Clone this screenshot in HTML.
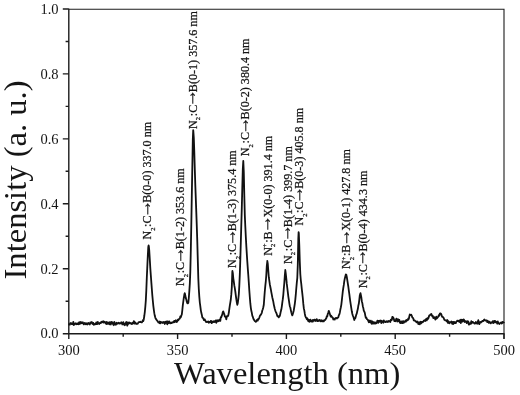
<!DOCTYPE html><html><head><meta charset="utf-8"><title>N2 emission spectrum</title>
<style>html,body{margin:0;padding:0;background:#fff}body{width:520px;height:395px;overflow:hidden}svg{display:block}text{font-family:"Liberation Serif","DejaVu Serif",serif;fill:#151515}</style></head><body>
<svg width="520" height="395" viewBox="0 0 520 395">
<rect width="520" height="395" fill="#fff"/>
<g stroke="#1c1c1c" stroke-width="1.4" fill="none">
<path d="M68.8 8.8V333.7H504.5"/>
<path stroke-width="1.1" d="M68.8 9.3H504.0V338.7"/>
<path d="M68.8 333.7v5.2M123.2 333.7v3.0M177.6 333.7v5.2M232.0 333.7v3.0M286.4 333.7v5.2M340.8 333.7v3.0M395.2 333.7v5.2M449.6 333.7v3.0M504.0 333.7v5.2M68.8 333.7h-6.0M68.8 301.2h-3.2M68.8 268.8h-6.0M68.8 236.3h-3.2M68.8 203.8h-6.0M68.8 171.3h-3.2M68.8 138.9h-6.0M68.8 106.4h-3.2M68.8 73.9h-6.0M68.8 41.5h-3.2M68.8 9.0h-6.0"/>
</g>
<polyline fill="none" stroke="#111" stroke-width="1.8" stroke-linejoin="round" points="68.8,323.5 69.3,324.7 69.8,324.6 70.3,323.1 70.8,323.3 71.3,323.1 71.8,324.1 72.3,323.5 72.8,324.2 73.3,321.9 73.8,325.0 74.3,323.5 74.8,324.2 75.3,323.5 75.8,323.2 76.3,324.0 76.8,324.3 77.3,323.4 77.8,323.5 78.3,324.2 78.8,322.8 79.3,322.2 79.8,324.0 80.3,323.0 80.8,321.9 81.3,322.9 81.8,323.2 82.3,322.5 82.8,322.3 83.3,323.6 83.8,324.4 84.3,323.4 84.8,322.9 85.3,323.9 85.8,324.2 86.3,323.3 86.8,324.1 87.3,324.5 87.8,323.4 88.3,322.9 88.8,323.9 89.3,323.8 89.8,324.6 90.3,322.4 90.8,323.0 91.3,322.8 91.8,322.0 92.3,323.7 92.8,324.0 93.3,322.9 93.8,324.8 94.3,324.3 94.8,324.1 95.3,323.9 95.8,324.3 96.3,322.3 96.8,324.0 97.3,324.0 97.8,321.9 98.3,323.7 98.8,323.2 99.3,324.0 99.8,322.9 100.3,323.0 100.8,323.0 101.3,321.8 101.8,322.6 102.3,321.8 102.8,322.1 103.3,321.2 103.8,322.6 104.3,322.2 104.8,321.8 105.3,322.7 105.8,323.4 106.3,324.1 106.8,321.8 107.3,323.9 107.8,323.7 108.3,323.2 108.8,322.4 109.3,324.4 109.8,322.2 110.3,323.8 110.8,324.5 111.3,321.9 111.8,323.1 112.3,322.2 112.8,323.6 113.3,324.7 113.8,325.2 114.3,321.8 114.8,322.9 115.3,324.0 115.8,324.8 116.3,323.8 116.8,322.7 117.3,323.7 117.8,323.4 118.3,323.2 118.8,322.7 119.3,323.7 119.8,323.7 120.3,323.3 120.8,323.2 121.3,322.2 121.8,323.0 122.3,324.5 122.8,323.2 123.3,322.1 123.8,324.6 124.3,323.8 124.8,325.2 125.3,323.4 125.8,322.9 126.3,322.0 126.8,324.5 127.3,325.6 127.8,322.5 128.3,322.7 128.8,323.8 129.3,322.5 129.8,323.0 130.3,322.9 130.8,323.3 131.3,324.1 131.8,323.2 132.3,323.9 132.8,322.7 133.3,323.4 133.8,321.2 134.3,321.7 134.8,323.7 135.3,322.5 135.8,323.5 136.3,323.4 136.8,324.1 137.3,323.6 137.8,323.7 138.3,322.7 138.8,322.1 139.3,322.1 139.8,322.2 140.3,321.6 140.8,322.0 141.3,322.3 141.8,322.4 142.3,321.7 142.8,320.2 143.3,321.1 143.8,319.2 144.3,316.0 144.8,312.1 145.3,307.0 145.8,300.6 146.3,290.6 146.8,277.7 147.3,266.9 147.8,255.8 148.3,246.9 148.6,245.4 148.8,246.1 149.3,251.2 149.8,259.5 150.3,268.1 150.8,275.0 151.3,281.9 151.8,288.5 152.3,295.1 152.8,300.5 153.3,305.6 153.8,309.7 154.3,313.2 154.8,315.8 155.3,317.6 155.8,318.8 156.3,319.6 156.8,320.1 157.3,320.9 157.8,321.3 158.3,322.4 158.8,322.4 159.3,323.1 159.8,321.5 160.3,323.4 160.8,322.0 161.3,322.1 161.8,322.6 162.3,322.3 162.8,323.0 163.3,322.3 163.8,321.8 164.3,322.0 164.8,324.0 165.3,322.8 165.8,321.7 166.3,322.8 166.8,321.4 167.3,324.3 167.8,321.3 168.3,323.1 168.8,323.1 169.3,321.3 169.8,322.8 170.3,323.3 170.8,322.8 171.3,322.6 171.8,323.1 172.3,322.3 172.8,322.3 173.3,321.8 173.8,322.3 174.3,320.8 174.8,322.1 175.3,320.9 175.8,320.2 176.3,321.1 176.8,322.0 177.3,321.1 177.8,319.8 178.3,320.4 178.8,319.2 179.3,319.0 179.8,318.6 180.3,316.5 180.8,317.2 181.3,315.7 181.8,314.5 182.3,310.4 182.8,305.4 183.3,301.5 183.8,297.8 184.3,294.8 184.7,293.2 184.8,293.3 185.3,295.5 185.8,298.1 186.3,299.5 186.8,301.8 187.3,303.2 187.8,303.4 188.3,302.9 188.8,298.0 189.3,291.4 189.8,284.0 190.3,272.0 190.8,250.6 191.3,224.8 191.8,195.7 192.3,168.1 192.8,139.9 193.2,130.2 193.3,130.8 193.8,137.8 194.3,152.1 194.8,169.3 195.3,185.0 195.8,198.6 196.3,212.4 196.8,226.5 197.3,241.7 197.8,260.3 198.3,278.1 198.8,289.1 199.3,296.6 199.8,302.5 200.3,306.2 200.8,310.1 201.3,312.8 201.8,314.7 202.3,317.4 202.8,318.1 203.3,318.1 203.8,320.0 204.3,320.0 204.8,319.5 205.3,320.7 205.8,321.7 206.3,322.1 206.8,321.7 207.3,321.7 207.8,322.1 208.3,321.5 208.8,322.8 209.3,321.9 209.8,322.0 210.3,322.3 210.8,320.8 211.3,321.2 211.8,323.2 212.3,322.1 212.8,321.5 213.3,322.1 213.8,321.3 214.3,322.0 214.8,321.1 215.3,321.9 215.8,320.3 216.3,322.8 216.8,321.2 217.3,320.2 217.8,321.3 218.3,321.1 218.8,321.0 219.3,319.6 219.8,319.9 220.3,320.9 220.8,317.2 221.3,317.1 221.8,315.6 222.3,314.4 222.8,312.0 223.3,311.4 223.8,313.2 224.3,314.2 224.8,316.5 225.3,316.3 225.8,317.1 226.3,319.4 226.8,316.2 227.3,315.9 227.8,316.3 228.3,315.3 228.8,312.8 229.3,309.2 229.8,305.7 230.3,302.7 230.8,299.5 231.3,294.4 231.8,287.4 232.3,272.0 232.4,271.0 232.8,272.9 233.3,278.3 233.8,281.7 234.3,285.4 234.8,288.1 235.3,291.5 235.8,295.4 236.3,299.2 236.8,302.4 237.3,304.8 237.8,302.9 238.3,299.1 238.8,294.5 239.3,285.9 239.8,274.6 240.3,260.0 240.8,242.8 241.3,225.0 241.8,207.7 242.3,187.3 242.8,169.0 243.3,160.9 243.3,161.0 243.8,172.4 244.3,195.6 244.8,215.0 245.3,226.2 245.8,236.5 246.3,245.6 246.8,253.9 247.3,261.5 247.8,268.6 248.3,275.3 248.8,282.5 249.3,290.2 249.8,297.0 250.3,303.2 250.8,307.6 251.3,310.8 251.8,312.8 252.3,315.6 252.8,316.8 253.3,318.4 253.8,319.6 254.3,320.2 254.8,321.2 255.3,321.3 255.8,321.8 256.3,321.3 256.8,320.1 257.3,319.6 257.8,320.6 258.3,318.8 258.8,318.8 259.3,317.6 259.8,316.2 260.3,315.2 260.8,314.8 261.3,313.8 261.8,312.8 262.3,310.5 262.8,309.2 263.3,307.3 263.8,304.8 264.3,297.8 264.8,291.2 265.3,285.9 265.8,281.3 266.3,275.0 266.8,265.9 267.3,261.7 267.3,260.8 267.8,264.0 268.3,270.8 268.8,277.2 269.3,280.7 269.8,284.2 270.3,286.7 270.8,289.2 271.3,292.1 271.8,294.6 272.3,297.4 272.8,299.5 273.3,301.6 273.8,304.6 274.3,306.8 274.8,309.0 275.3,310.6 275.8,311.8 276.3,312.9 276.8,314.2 277.3,315.9 277.8,316.5 278.3,316.1 278.8,317.4 279.3,316.4 279.8,316.1 280.3,313.7 280.8,311.4 281.3,309.6 281.8,306.6 282.3,302.6 282.8,299.2 283.3,294.8 283.8,288.5 284.3,283.0 284.8,275.9 285.3,270.3 285.3,270.0 285.8,273.9 286.3,278.6 286.8,283.9 287.3,288.0 287.8,292.1 288.3,296.3 288.8,299.7 289.3,303.2 289.8,306.2 290.3,307.5 290.8,310.1 291.3,312.2 291.8,314.1 292.3,315.4 292.8,313.9 293.3,312.3 293.8,310.2 294.3,307.0 294.8,303.8 295.3,299.6 295.8,294.3 296.3,288.3 296.8,282.7 297.3,277.8 297.8,264.5 298.3,239.0 298.6,232.2 298.8,233.2 299.3,245.5 299.8,261.9 300.3,274.0 300.8,280.0 301.3,284.1 301.8,289.0 302.3,293.4 302.8,298.0 303.3,303.7 303.8,308.2 304.3,310.4 304.8,313.7 305.3,316.1 305.8,317.2 306.3,318.0 306.8,319.2 307.3,318.3 307.8,319.9 308.3,321.1 308.8,319.8 309.3,321.8 309.8,321.0 310.3,319.7 310.8,321.4 311.3,320.6 311.8,321.6 312.3,320.2 312.8,321.7 313.3,320.0 313.8,320.6 314.3,319.7 314.8,319.7 315.3,321.0 315.8,320.1 316.3,319.7 316.8,319.1 317.3,321.2 317.8,321.1 318.3,320.4 318.8,321.0 319.3,320.0 319.8,320.1 320.3,320.3 320.8,321.3 321.3,321.2 321.8,320.2 322.3,321.4 322.8,321.4 323.3,320.8 323.8,321.3 324.3,320.1 324.8,320.1 325.3,319.9 325.8,318.8 326.3,318.2 326.8,316.1 327.3,316.3 327.8,313.8 328.3,312.6 328.8,310.8 329.3,312.3 329.8,313.8 330.3,315.4 330.8,316.6 331.3,315.8 331.8,316.8 332.3,317.5 332.8,317.6 333.3,319.5 333.8,319.0 334.3,319.0 334.8,319.5 335.3,318.2 335.8,318.1 336.3,317.9 336.8,318.6 337.3,318.0 337.8,317.6 338.3,317.4 338.8,315.2 339.3,314.4 339.8,312.7 340.3,309.8 340.8,307.5 341.3,304.8 341.8,300.6 342.3,296.0 342.8,291.4 343.3,287.8 343.8,284.9 344.3,281.1 344.8,278.4 345.3,276.5 345.8,274.5 346.0,274.6 346.3,274.7 346.8,277.0 347.3,280.2 347.8,283.4 348.3,286.5 348.8,290.3 349.3,293.8 349.8,297.8 350.3,301.6 350.8,304.8 351.3,308.2 351.8,311.3 352.3,313.8 352.8,315.6 353.3,316.5 353.8,318.2 354.3,320.0 354.8,318.3 355.3,318.3 355.8,316.5 356.3,314.6 356.8,313.4 357.3,311.0 357.8,309.1 358.3,305.8 358.8,303.8 359.3,299.9 359.8,295.4 360.3,293.9 360.5,293.2 360.8,294.6 361.3,297.1 361.8,301.2 362.3,302.9 362.8,306.2 363.3,307.9 363.8,310.8 364.3,311.6 364.8,312.8 365.3,315.6 365.8,317.9 366.3,317.4 366.8,319.0 367.3,319.4 367.8,319.8 368.3,321.0 368.8,322.3 369.3,320.5 369.8,322.1 370.3,322.0 370.8,320.7 371.3,323.3 371.8,323.7 372.3,321.3 372.8,323.7 373.3,322.3 373.8,322.2 374.3,323.6 374.8,322.5 375.3,322.5 375.8,323.5 376.3,323.2 376.8,322.8 377.3,320.8 377.8,320.6 378.3,322.8 378.8,321.0 379.3,321.9 379.8,320.8 380.3,321.5 380.8,320.5 381.3,323.1 381.8,320.8 382.3,321.6 382.8,321.5 383.3,322.7 383.8,320.4 384.3,321.6 384.8,321.5 385.3,322.1 385.8,322.1 386.3,321.2 386.8,321.8 387.3,321.3 387.8,322.0 388.3,321.5 388.8,321.0 389.3,321.3 389.8,321.2 390.3,322.0 390.8,319.6 391.3,319.6 391.8,320.0 392.3,317.0 392.8,317.0 393.3,317.7 393.8,318.8 394.3,321.0 394.8,320.2 395.3,321.2 395.8,320.6 396.3,318.7 396.8,318.9 397.3,321.6 397.8,320.8 398.3,319.4 398.8,321.4 399.3,319.9 399.8,322.2 400.3,323.1 400.8,321.8 401.3,321.4 401.8,323.1 402.3,321.4 402.8,323.0 403.3,321.2 403.8,322.8 404.3,322.1 404.8,321.5 405.3,321.0 405.8,321.8 406.3,319.9 406.8,320.7 407.3,320.1 407.8,320.2 408.3,318.3 408.8,319.1 409.3,316.5 409.8,314.4 410.3,314.7 410.8,315.0 411.3,314.8 411.8,315.8 412.3,317.5 412.8,317.8 413.3,318.6 413.8,320.4 414.3,320.2 414.8,320.5 415.3,321.1 415.8,321.1 416.3,322.1 416.8,322.3 417.3,321.5 417.8,322.1 418.3,324.1 418.8,322.7 419.3,322.3 419.8,324.3 420.3,322.7 420.8,321.7 421.3,323.3 421.8,321.8 422.3,321.9 422.8,322.2 423.3,321.5 423.8,320.7 424.3,320.5 424.8,320.1 425.3,321.0 425.8,319.3 426.3,319.0 426.8,320.4 427.3,318.1 427.8,319.1 428.3,318.4 428.8,316.9 429.3,315.4 429.8,315.4 430.3,314.7 430.8,314.5 431.3,313.9 431.8,315.2 432.3,316.3 432.8,315.9 433.3,318.1 433.8,317.5 434.3,317.2 434.8,317.7 435.3,319.6 435.8,319.1 436.3,316.7 436.8,318.3 437.3,317.8 437.8,317.2 438.3,316.4 438.8,315.3 439.3,315.7 439.8,313.6 440.3,313.4 440.8,313.6 441.3,314.3 441.8,316.1 442.3,316.9 442.8,316.9 443.3,317.4 443.8,318.3 444.3,319.8 444.8,319.8 445.3,320.4 445.8,320.3 446.3,320.7 446.8,321.3 447.3,320.0 447.8,322.9 448.3,321.2 448.8,321.6 449.3,323.3 449.8,322.5 450.3,322.5 450.8,322.1 451.3,321.4 451.8,322.9 452.3,323.9 452.8,322.0 453.3,324.0 453.8,321.8 454.3,322.1 454.8,323.1 455.3,322.6 455.8,323.1 456.3,321.8 456.8,321.4 457.3,320.6 457.8,321.1 458.3,321.1 458.8,320.8 459.3,322.0 459.8,321.0 460.3,319.8 460.8,323.0 461.3,320.2 461.8,319.7 462.3,321.6 462.8,321.5 463.3,319.6 463.8,319.5 464.3,320.2 464.8,322.1 465.3,321.3 465.8,321.2 466.3,322.0 466.8,323.1 467.3,321.2 467.8,322.2 468.3,321.5 468.8,324.6 469.3,324.4 469.8,323.8 470.3,323.0 470.8,323.7 471.3,321.2 471.8,323.3 472.3,321.9 472.8,321.9 473.3,322.4 473.8,322.7 474.3,323.5 474.8,323.5 475.3,323.1 475.8,322.0 476.3,323.4 476.8,322.6 477.3,323.7 477.8,321.8 478.3,320.2 478.8,322.1 479.3,324.2 479.8,322.6 480.3,321.9 480.8,322.6 481.3,322.1 481.8,321.8 482.3,320.9 482.8,321.1 483.3,321.0 483.8,320.1 484.3,319.5 484.8,320.2 485.3,320.7 485.8,320.4 486.3,320.3 486.8,320.4 487.3,322.2 487.8,320.9 488.3,321.9 488.8,322.9 489.3,321.7 489.8,322.0 490.3,322.8 490.8,323.4 491.3,322.3 491.8,322.4 492.3,322.2 492.8,321.1 493.3,323.2 493.8,322.0 494.3,320.9 494.8,322.3 495.3,321.0 495.8,321.7 496.3,322.6 496.8,321.9 497.3,323.7 497.8,321.5 498.3,323.0 498.8,323.3 499.3,324.1 499.8,323.6 500.3,322.9 500.8,322.7 501.3,322.6 501.8,323.5 502.3,321.9 502.8,322.7 503.3,322.1 503.8,322.3 504.0,321.8"/>
<g font-size="14.5px" text-anchor="middle">
<text x="68.8" y="354.6">300</text>
<text x="177.6" y="354.6">350</text>
<text x="286.4" y="354.6">400</text>
<text x="395.2" y="354.6">450</text>
<text x="504.0" y="354.6">500</text>
</g>
<g font-size="14.5px" text-anchor="end">
<text x="58.5" y="338.4">0.0</text>
<text x="58.5" y="273.5">0.2</text>
<text x="58.5" y="208.5">0.4</text>
<text x="58.5" y="143.6">0.6</text>
<text x="58.5" y="78.6">0.8</text>
<text x="58.5" y="13.7">1.0</text>
</g>
<text x="174" y="384" font-size="32.6px" id="xt">Wavelength (nm)</text>
<text transform="translate(26.3 279.5) rotate(-90)" font-size="32.6px" id="yt">Intensity (a. u.)</text>
<g class="pl" id="l0" transform="translate(151.4 239.6) rotate(-90)" font-size="12.1px" stroke="#151515" stroke-width="0.25">
<text x="0" y="0">N<tspan font-size="6.6px" dy="3.3">2</tspan><tspan dy="-3.3" dx="0.70">:C</tspan></text><text x="21.29" y="-0.45" font-size="18.4px">→</text><text x="36.77" y="0">B(0-0) 337.0 nm</text></g>
<g class="pl" id="l1" transform="translate(184.4 286.0) rotate(-90)" font-size="12.1px" stroke="#151515" stroke-width="0.25">
<text x="0" y="0">N<tspan font-size="6.6px" dy="3.3">2</tspan><tspan dy="-3.3" dx="0.70">:C</tspan></text><text x="21.29" y="-0.45" font-size="18.4px">→</text><text x="36.77" y="0">B(1-2) 353.6 nm</text></g>
<g class="pl" id="l2" transform="translate(196.8 128.9) rotate(-90)" font-size="12.1px" stroke="#151515" stroke-width="0.25">
<text x="0" y="0">N<tspan font-size="6.6px" dy="3.3">2</tspan><tspan dy="-3.3" dx="0.70">:C</tspan></text><text x="21.29" y="-0.45" font-size="18.4px">→</text><text x="36.77" y="0">B(0-1) 357.6 nm</text></g>
<g class="pl" id="l3" transform="translate(236.2 268.0) rotate(-90)" font-size="12.1px" stroke="#151515" stroke-width="0.25">
<text x="0" y="0">N<tspan font-size="6.6px" dy="3.3">2</tspan><tspan dy="-3.3" dx="0.70">:C</tspan></text><text x="21.29" y="-0.45" font-size="18.4px">→</text><text x="36.77" y="0">B(1-3) 375.4 nm</text></g>
<g class="pl" id="l4" transform="translate(249.2 156.2) rotate(-90)" font-size="12.1px" stroke="#151515" stroke-width="0.25">
<text x="0" y="0">N<tspan font-size="6.6px" dy="3.3">2</tspan><tspan dy="-3.3" dx="0.70">:C</tspan></text><text x="21.29" y="-0.45" font-size="18.4px">→</text><text x="36.77" y="0">B(0-2) 380.4 nm</text></g>
<g class="pl" id="l5" transform="translate(271.6 255.7) rotate(-90)" font-size="12.1px" stroke="#151515" stroke-width="0.25">
<text x="0" y="0">N<tspan font-size="6.6px" dy="3.4">2</tspan><tspan font-size="6.6px" dy="-8.2" dx="-3.50">+</tspan><tspan dy="4.8" dx="0.68">:B</tspan></text><text x="22.14" y="-0.45" font-size="18.4px">→</text><text x="38.27" y="0">X(0-0) 391.4 nm</text></g>
<g class="pl" id="l6" transform="translate(291.6 263.9) rotate(-90)" font-size="12.1px" stroke="#151515" stroke-width="0.25">
<text x="0" y="0">N<tspan font-size="6.6px" dy="3.3">2</tspan><tspan dy="-3.3" dx="0.70">:C</tspan></text><text x="21.29" y="-0.45" font-size="18.4px">→</text><text x="36.77" y="0">B(1-4) 399.7 nm</text></g>
<g class="pl" id="l7" transform="translate(303.2 225.6) rotate(-90)" font-size="12.1px" stroke="#151515" stroke-width="0.25">
<text x="0" y="0">N<tspan font-size="6.6px" dy="3.3">2</tspan><tspan dy="-3.3" dx="0.70">:C</tspan></text><text x="21.29" y="-0.45" font-size="18.4px">→</text><text x="36.77" y="0">B(0-3) 405.8 nm</text></g>
<g class="pl" id="l8" transform="translate(350.4 269.0) rotate(-90)" font-size="12.1px" stroke="#151515" stroke-width="0.25">
<text x="0" y="0">N<tspan font-size="6.6px" dy="3.4">2</tspan><tspan font-size="6.6px" dy="-8.2" dx="-3.50">+</tspan><tspan dy="4.8" dx="0.68">:B</tspan></text><text x="22.14" y="-0.45" font-size="18.4px">→</text><text x="38.27" y="0">X(0-1) 427.8 nm</text></g>
<g class="pl" id="l9" transform="translate(366.6 288.3) rotate(-90)" font-size="12.1px" stroke="#151515" stroke-width="0.25">
<text x="0" y="0">N<tspan font-size="6.6px" dy="3.3">2</tspan><tspan dy="-3.3" dx="0.70">:C</tspan></text><text x="21.29" y="-0.45" font-size="18.4px">→</text><text x="36.77" y="0">B(0-4) 434.3 nm</text></g>
</svg></body></html>
